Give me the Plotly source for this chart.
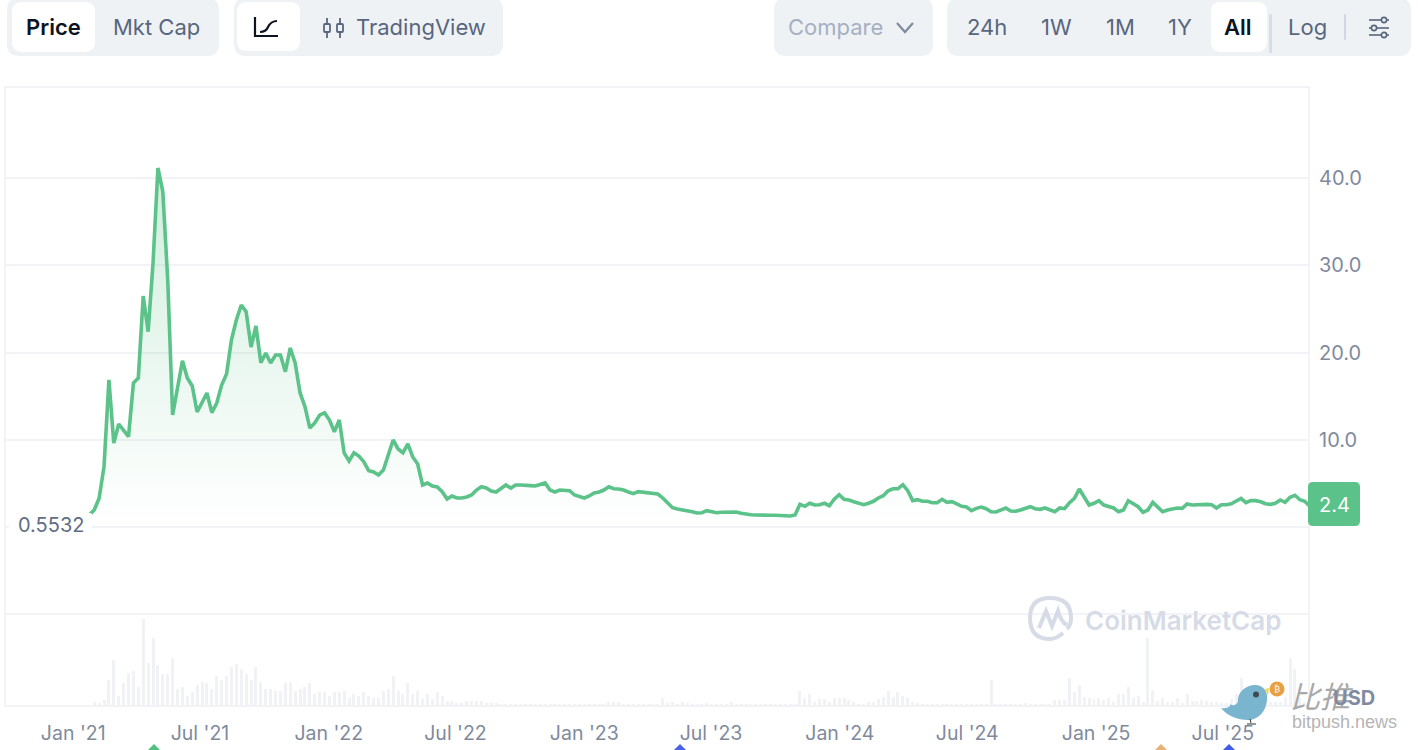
import pandas as pd
import plotly.graph_objects as go

# weekly close (first 17 sit behind the 0.5532 label)
price_before_label = [0.80, 0.75, 0.70, 0.65, 0.60, 0.58, 0.56, 0.55, 0.55, 0.56, 0.58, 0.60, 0.65, 0.70, 0.80, 1.00, 1.40]
price = [
    1.95, 3.29, 6.92, 16.86, 9.63, 11.81, 11.12, 10.36, 16.51, 17.09,
    26.49, 22.40, 30.28, 41.17, 38.45, 28.33, 12.84, 15.94, 19.07, 17.09,
    16.17, 13.19, 14.37, 15.37, 13.11, 14.22, 16.28, 17.55, 21.45, 23.74,
    25.46, 24.69, 20.64, 23.05, 18.84, 19.95, 18.81, 19.72, 19.72, 17.81,
    20.53, 18.81, 15.40, 13.80, 11.35, 11.93, 12.84, 13.11, 12.27, 10.93,
    12.27, 8.49, 7.57, 8.52, 8.14, 7.49, 6.46, 6.31, 5.96, 6.54,
    8.26, 9.98, 8.95, 8.52, 9.52, 8.03, 7.22, 4.82, 5.05, 4.70,
    4.59, 4.05, 3.21, 3.56, 3.33, 3.33, 3.44, 3.67, 4.24, 4.62,
    4.47, 4.13, 4.01, 4.39, 4.82, 4.47, 4.82, 4.82, 4.82, 4.74,
    4.70, 4.93, 5.05, 4.24, 4.01, 4.24, 4.24, 4.16, 3.67, 3.47,
    3.33, 3.56, 3.90, 4.01, 4.24, 4.62, 4.39, 4.36, 4.24, 4.01,
    3.82, 4.05, 3.98, 3.98, 3.90, 3.78, 3.33, 2.75, 2.21, 2.06,
    1.98, 1.92, 1.75, 1.61, 1.64, 1.87, 1.75, 1.64, 1.69, 1.72,
    1.72, 1.72, 1.57, 1.46, 1.41, 1.38, 1.34, 1.30, 1.34, 1.34,
    1.34, 1.30, 1.26, 1.38, 2.60, 2.37, 2.72, 2.52, 2.56, 2.72, 2.44,
    3.18, 3.70, 3.18, 3.10, 2.90, 2.72, 2.56, 2.72, 2.95, 3.33,
    3.59, 4.16, 4.39, 4.39, 4.85, 4.16, 3.02, 3.13, 2.95, 2.95,
    2.79, 2.79, 3.18, 2.83, 2.90, 2.64, 2.37, 2.29, 1.87, 2.14,
    2.29, 2.10, 1.75, 1.72, 1.92, 2.18, 1.83, 1.80, 1.95, 2.14,
    2.33, 2.10, 2.03, 2.18, 1.95, 1.75, 2.18, 2.10, 2.79, 3.29,
    4.36, 3.44, 2.52, 2.72, 3.02, 2.52, 2.33, 2.18, 1.75, 1.95,
    3.02, 2.72, 2.33, 1.69, 1.95, 2.83, 2.26, 1.75, 1.95, 2.10,
    2.18, 2.14, 2.64, 2.52, 2.56, 2.60, 2.60, 2.56, 2.18, 2.56,
    2.56, 2.67, 2.98, 3.29, 2.79, 3.02, 3.02, 2.90, 2.67, 2.60,
    2.72, 3.10, 2.83, 3.41, 3.64, 3.13, 2.95, 2.40,
]
# relative volume, no scale on the chart
volume = [
    10, 5, 15, 75, 135, 27, 65, 97, 103, 53, 258, 125, 200, 120, 92, 92, 140, 48, 53, 27,
    38, 60, 70, 65, 48, 87, 75, 87, 113, 123, 108, 93, 75, 113, 70, 48, 48, 43, 43, 65,
    70, 43, 48, 53, 65, 33, 38, 38, 26, 38, 38, 43, 22, 33, 28, 38, 28, 22, 22, 43,
    48, 87, 43, 33, 65, 33, 43, 17, 33, 17, 38, 28, 12, 12, 7, 7, 12, 12, 12, 12, 7, 7, 7,
    3, 3, 3, 3, 3, 3, 1, 1, 3, 3, 3, 1, 1, 1, 1, 1, 3, 1, 1, 3, 3, 3, 10, 10, 10, 1, 1,
    3, 3, 3, 3, 3, 3, 20, 5, 10, 1, 10, 5, 1, 1, 1, 5, 1, 1, 3, 1, 10,
    1, 1, 1, 1, 1, 1, 1, 1, 3, 1, 1, 1, 1,
    43, 22, 33, 10, 18, 18, 10, 22, 22, 22, 15, 10, 3, 3, 8, 8, 18, 25, 43, 25, 38, 27, 20, 10, 5,
    1, 1, 1, 3, 3, 3, 3, 1, 1, 1, 1, 1, 1, 1, 75, 1,
    1, 1, 1, 1, 1, 5, 1, 1, 1, 3, 1, 15, 15, 15, 80, 40, 60, 25, 22, 18, 20, 15, 22, 10, 32, 32,
    55, 20, 28, 10, 200, 45, 12, 22, 8, 8, 22, 5, 32, 12, 12, 15, 12, 8, 8, 5, 5, 18, 32, 80,
    30, 15, 12, 25, 15, 10, 10, 8, 25, 140, 108, 20, 10,
]
x_tick_dates = ["2021-01-01", "2021-07-01", "2022-01-01", "2022-07-01", "2023-01-01",
                "2023-07-01", "2024-01-01", "2024-07-01", "2025-01-01", "2025-07-01"]
x_tick_labels = ["Jan '21", "Jul '21", "Jan '22", "Jul '22", "Jan '23",
                 "Jul '23", "Jan '24", "Jul '24", "Jan '25", "Jul '25"]
y_ticks = [40, 30, 20, 10, 0, -10]
y_tick_labels = ["40.0", "30.0", "20.0", "10.0", "", ""]
low_label = "0.5532"
last_label = "2.4"

GREEN = "#5bc389"
GRID = "#f1f3f6"
PANEL = "#eff2f5"
MUTED = "#58667e"
DARK = "#0d1421"
FONT = "Inter"

# plot box in page pixels, used for the toolbar and other page furniture
L, R, T, B = 6, 1308, 88, 705


def px(x):
    return (x - L) / (R - L)


def py(y):
    return (B - y) / (B - T)


def path(pts):
    # pts: list of svg commands with page pixel pairs
    out = []
    for cmd, *nums in pts:
        conv = [px(n) if i % 2 == 0 else py(n) for i, n in enumerate(nums)]
        out.append(cmd + " " + " ".join(f"{c:.5f}" for c in conv))
    return " ".join(out)


def rrect(x0, y0, x1, y1, r):
    return path([
        ("M", x0 + r, y0), ("L", x1 - r, y0), ("Q", x1, y0, x1, y0 + r),
        ("L", x1, y1 - r), ("Q", x1, y1, x1 - r, y1), ("L", x0 + r, y1),
        ("Q", x0, y1, x0, y1 - r), ("L", x0, y0 + r), ("Q", x0, y0, x0 + r, y0),
    ]) + " Z"


shapes = []


def box(x0, y0, x1, y1, r, fill, layer="above"):
    shapes.append(dict(type="path", xref="paper", yref="paper", path=rrect(x0, y0, x1, y1, r),
                       fillcolor=fill, line=dict(width=0), layer=layer))


def stroke(pts, color, width=2.0):
    shapes.append(dict(type="path", xref="paper", yref="paper", path=path(pts),
                       line=dict(color=color, width=width), layer="above"))


def fill(pts, color):
    shapes.append(dict(type="path", xref="paper", yref="paper", path=path(pts) + " Z",
                       fillcolor=color, line=dict(width=0), layer="above"))


def dot(x, y, r, color, line_color=None, width=0):
    shapes.append(dict(type="circle", xref="paper", yref="paper", x0=px(x - r), x1=px(x + r),
                       y0=py(y + r), y1=py(y - r), fillcolor=color,
                       line=dict(color=line_color or color, width=width), layer="above"))


annotations = []


def label(x, y, text, size=22, color=MUTED, family=FONT, anchor="center", weight=None, **kw):
    font = dict(family=family, size=size, color=color)
    if weight:
        font["weight"] = weight
    annotations.append(dict(xref="paper", yref="paper", x=px(x), y=py(y), text=text, showarrow=False,
                            xanchor=anchor, yanchor="middle", font=font, **kw))


# toolbar
box(7, -2, 219, 56, 12, PANEL)
box(12, 2, 95, 52, 10, "#ffffff")
label(53, 27, "Price", color=DARK, weight=600)
label(156, 27, "Mkt Cap")

box(234, -2, 503, 56, 12, PANEL)
box(237, 2, 300, 51, 10, "#ffffff")
stroke([("M", 255, 17), ("L", 255, 36), ("L", 278, 36)], DARK, 2.2)
stroke([("M", 260, 32), ("Q", 266, 32, 268, 27), ("Q", 271, 21, 277, 21)], DARK, 2.2)
for cx, top, bot in [(327, 18, 38), (340, 18, 38)]:
    stroke([("M", cx, top), ("L", cx, bot)], MUTED, 1.8)
    shapes.append(dict(type="path", xref="paper", yref="paper", path=rrect(cx - 3, top + 6, cx + 3, bot - 6, 1),
                       fillcolor="#eff2f5", line=dict(color=MUTED, width=1.8), layer="above"))
label(421, 27, "TradingView")

box(774, -2, 933, 56, 12, PANEL)
label(835, 27, "Compare", color="#a6b0c3")
stroke([("M", 897, 23), ("L", 905, 32), ("L", 913, 23)], "#808a9d", 2.2)

box(947, -2, 1411, 56, 12, PANEL)
box(1211, 2, 1267, 52, 10, "#ffffff")
label(987, 27, "24h")
label(1056, 27, "1W")
label(1120, 27, "1M")
label(1180, 27, "1Y")
label(1238, 27, "All", color=DARK, weight=600)
label(1307, 27, "Log")
box(1269, 14, 1272, 53, 1, "#d8dde6")
box(1344, 14, 1346, 40, 1, "#cfd6e4")
for ly, cx in [(20, 1384), (28, 1374), (35, 1384)]:
    stroke([("M", 1369, ly), ("L", 1389, ly)], MUTED, 1.6)
    dot(cx, ly, 2.6, PANEL, MUTED, 1.6)

# last price pill and the low label that covers the start of the line
box(1308, 482, 1360, 526, 5, GREEN)
label(1334, 505, last_label, size=20, color="#ffffff")
box(9, 513, 92, 537, 2, "#ffffff")
label(51, 525, low_label, size=20, color="#616e85")

# event markers under the axis
for cx, col in [(154, "#4fc280"), (680, "#4a63e6"), (1161, "#e8b27a"), (1229, "#3f5ce8")]:
    fill([("M", cx, 744), ("L", cx + 8, 752), ("L", cx, 760), ("L", cx - 8, 752)], col)

# coinmarketcap watermark
LOGO = "#d6dbe7"
stroke([("M", 1063, 633), ("Q", 1056, 639, 1050, 639), ("Q", 1030, 639, 1030, 618),
        ("Q", 1030, 598, 1050, 598), ("Q", 1071, 598, 1071, 618), ("Q", 1071, 625, 1067, 629)], LOGO, 4)
stroke([("M", 1039, 628), ("L", 1046, 611), ("L", 1052, 626), ("L", 1058, 611), ("Q", 1061, 622, 1067, 625)], LOGO, 4)
label(1183, 620, "CoinMarketCap", size=26, color=LOGO, weight=600)

# bitpush stamp
fill([("M", 1221, 708), ("C", 1228, 709, 1231, 706, 1230, 704), ("C", 1234, 707, 1238, 704, 1238, 700),
      ("C", 1238, 692, 1246, 685, 1255, 685), ("C", 1264, 685, 1268, 692, 1267, 700),
      ("C", 1266, 712, 1258, 720, 1248, 720), ("C", 1238, 720, 1227, 716, 1221, 708)], "#79b5cf")
fill([("M", 1265, 689), ("L", 1269, 688), ("L", 1268, 696)], "#f2d65c")
dot(1256, 694.5, 3, "#3d4a52")
stroke([("M", 1250, 719), ("L", 1251, 723), ("M", 1247, 724), ("L", 1256, 724)], "#333333", 1)
dot(1277, 689, 7.5, "#e8a043")
label(1277, 689, "₿", size=9, color="#ffffff", family="DejaVu Sans")
label(1321, 695, "<i>比推</i>", size=30, color="#a9a9a9", family="Noto Sans CJK SC")
label(1354, 698, "<b>USD</b>", size=20, color="#7f8ba3")
label(1344, 722, "bitpush.news", size=18, color="#b5b5b5", family="Liberation Sans")

all_price = price_before_label + price
dates = pd.date_range("2020-10-04", periods=len(all_price), freq="7D")
vol_dates = dates[len(price_before_label):len(price_before_label) + len(volume)]

fig = go.Figure()
fig.add_trace(go.Bar(x=vol_dates, y=volume, yaxis="y2", width=3.7e8,
                     marker=dict(color="#f0f2f6", line=dict(width=0)), hoverinfo="skip"))
fig.add_trace(go.Scatter(
    x=dates, y=all_price, mode="lines", line=dict(color=GREEN, width=3.6),
    fill="tozeroy",
    fillgradient=dict(type="vertical", colorscale=[[0, "rgba(91,195,137,0)"], [1, "rgba(91,195,137,0.28)"]]),
))

fig.update_layout(
    width=1418,
    height=750,
    autosize=False,
    showlegend=False,
    paper_bgcolor="white",
    plot_bgcolor="white",
    margin=dict(l=L, r=1418 - R, t=T, b=750 - B, autoexpand=False),
    font=dict(family=FONT, size=20, color="#808a9d"),
    bargap=0,
    shapes=shapes,
    annotations=annotations,
    xaxis=dict(
        type="date",
        range=["2020-09-27", "2025-10-30 16:00"],
        tickmode="array",
        tickvals=x_tick_dates,
        ticktext=x_tick_labels,
        showgrid=False,
        zeroline=False,
        showline=True,
        mirror=True,
        linecolor=GRID,
        linewidth=2,
        ticks="outside",
        ticklen=10,
        tickcolor="rgba(0,0,0,0)",
        tickfont=dict(family=FONT, size=19.5, color="#808a9d"),
    ),
    yaxis=dict(
        range=[-20.41, 50.34],
        side="right",
        tickmode="array",
        tickvals=y_ticks,
        ticktext=y_tick_labels,
        showgrid=True,
        gridcolor=GRID,
        gridwidth=2,
        zeroline=False,
        showline=True,
        mirror=True,
        linecolor=GRID,
        linewidth=2,
        ticks="outside",
        ticklen=5,
        tickcolor="rgba(0,0,0,0)",
        tickfont=dict(family=FONT, size=20, color="#808a9d"),
    ),
    yaxis2=dict(range=[0, 1851], overlaying="y", visible=False),
)

fig.write_html("out.html", config={"displayModeBar": False},
               post_script="document.body.style.margin='0'; document.body.style.overflow='hidden';")
